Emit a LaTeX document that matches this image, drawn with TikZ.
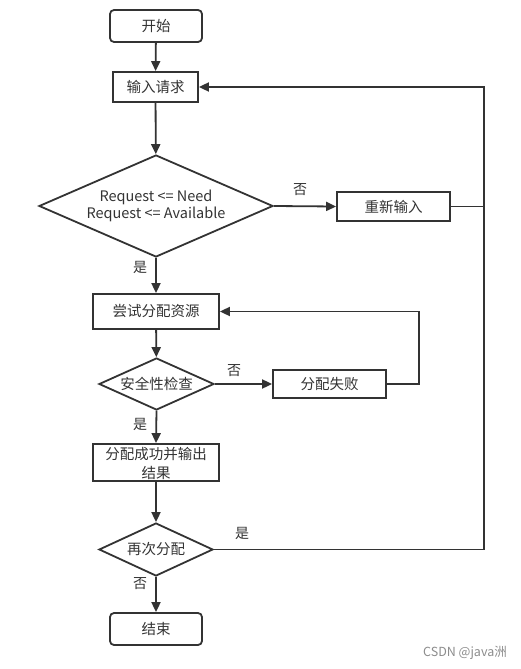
\documentclass[tikz,border=0pt]{standalone}
\usepackage{fontspec}
\setmainfont{Noto Sans CJK SC}
\usetikzlibrary{shapes.geometric,arrows.meta}
\definecolor{ln}{HTML}{333333}
\tikzset{
  box/.style={draw=ln,line width=1.8pt,rectangle,inner sep=0pt,align=center,font=\fontsize{14.5}{17}\selectfont,text=ln},
  term/.style={box,rounded corners=4pt},
  dia/.style={draw=ln,line width=1.8pt,diamond,inner sep=0pt,align=center,font=\fontsize{14.5}{17}\selectfont,text=ln},
  lbl/.style={font=\fontsize{14}{17}\selectfont,text=ln,inner sep=0pt},
  arr/.style={draw=ln,line width=1.8pt,-{Triangle[length=10pt,width=9pt]}},
  ln/.style={draw=ln,line width=1.8pt},
}
\begin{document}
\begin{tikzpicture}[x=1pt,y=-1pt]
\useasboundingbox (0,0) rectangle (521,669);
\node[term,minimum width=92pt,minimum height=32pt] (start) at (156,26) {开始};
\node[box,minimum width=85pt,minimum height=30pt] (in) at (155.5,87) {输入请求};
\node[dia,minimum width=234pt,minimum height=102pt,aspect=2.3] (d1) at (156,206) {Request <= Need\\Request <= Available};
\node[box,minimum width=113pt,minimum height=29pt] (re) at (393.5,206.5) {重新输入};
\node[box,minimum width=126pt,minimum height=35pt] (try) at (156,311.5) {尝试分配资源};
\node[dia,minimum width=115pt,minimum height=52pt,aspect=2.2] (d2) at (156.5,384) {安全性检查};
\node[box,minimum width=113pt,minimum height=28pt] (fail) at (329.5,384) {分配失败};
\node[box,minimum width=126pt,minimum height=37pt,text depth=0pt] (ok) at (156,462.5) {分配成功并输出\\[2pt]结果};
\node[dia,minimum width=114pt,minimum height=53pt,aspect=2.15] (d3) at (156,549.5) {再次分配};
\node[term,minimum width=92pt,minimum height=32pt] (end) at (156,629) {结束};

\coordinate (c1) at (484,206.5);
\coordinate (c2) at (484,87);
\coordinate (c3) at (484,549.5);
\coordinate (f1) at (419,384);
\coordinate (f2) at (419,311.5);

\draw[arr] (start) -- (in);
\draw[arr] (in) -- (d1);
\draw[arr] (d1.east) -- (re.west);
\draw[ln] (re.east) -- (c1);
\draw[arr] (c3) -- (c2) -- (in.east);
\draw[ln] (d3.east) -- (c3);
\draw[arr] (d1.south) -- (try.north);
\draw[arr] (try) -- (d2);
\draw[arr] (d2.east) -- (fail.west);
\draw[arr] (fail.east) -- (f1) -- (f2) -- (try.east);
\draw[arr] (d2.south) -- (ok.north);
\draw[arr] (ok.south) -- (d3.north);
\draw[arr] (d3.south) -- (end.north);

\node[lbl] (l1) at (300,190) {否};
\node[lbl] (l2) at (140,267) {是};
\node[lbl] (l3) at (234,371) {否};
\node[lbl] (l4) at (140,424) {是};
\node[lbl] (l5) at (242,533) {是};
\node[lbl] (l6) at (140,584) {否};
\node[font=\fontsize{12.5}{15}\selectfont,text=black!45,inner sep=0pt] (wm) at (465,653) {CSDN @java洲};
\end{tikzpicture}
\end{document}
